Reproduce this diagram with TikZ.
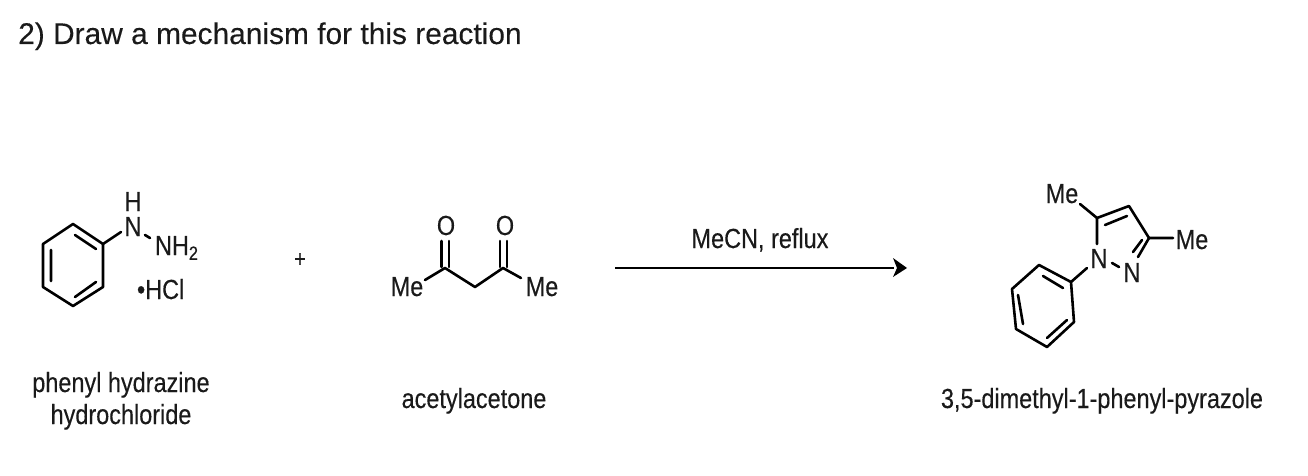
\documentclass[tikz,border=0pt]{standalone}
\usepackage{fontspec}
\setmainfont[FakeBold=0.15]{Liberation Sans}
\newfontfamily\narrowfont[FakeStretch=0.85,FakeBold=0.25]{Liberation Sans}
\definecolor{ink}{HTML}{1A1A1A}
\tikzset{
  bond/.style={draw=black,line width=2.6pt,line cap=round,line join=round},
  atom/.style={inner sep=0pt,outer sep=0pt,text=ink,font=\narrowfont\fontsize{27.6}{27.6}\selectfont,anchor=base},
  caption/.style={atom},
  title/.style={inner sep=0pt,text=ink,font=\fontsize{29.9}{29.9}\selectfont,anchor=base west},
}
\begin{document}
\begin{tikzpicture}[x=1pt,y=-1pt]
\useasboundingbox (0,0) rectangle (1308,476);
\node[title] (ttl) at (18,44) {2) Draw a mechanism for this reaction};
% phenyl hydrazine
\coordinate (a1) at (73,224); \coordinate (a2) at (103,244); \coordinate (a3) at (103,287);
\coordinate (a4) at (73,306); \coordinate (a5) at (43,287); \coordinate (a6) at (43,244);
\coordinate (a1i) at (75,235); \coordinate (a2i) at (96,249); \coordinate (a3i) at (96,282);
\coordinate (a4i) at (75,297); \coordinate (a5i) at (51,281); \coordinate (a6i) at (51,250);
\draw[bond] (a1)--(a2)--(a3)--(a4)--(a5)--(a6)--cycle;
\draw[bond] (a1i)--(a2i) (a3i)--(a4i) (a5i)--(a6i);
\node[atom] (nh) at (133,236) {N};
\node[atom] (hh) at (133,211) {H};
\node[atom,anchor=base west] (nh2) at (155,255) {NH\textsubscript{2}};
\node[atom,anchor=base west] (hcl) at (137,299) {•HCl};
\coordinate (nhw) at (121,232); \coordinate (nhe) at (145,235); \coordinate (nh2w) at (150,238);
\draw[bond] (a2)--(nhw) (nhe)--(nh2w);
% plus
\node[atom,font=\narrowfont\fontsize{24}{24}\selectfont] (plus) at (300,267) {+};
% acetylacetone
\coordinate (c1) at (445,268); \coordinate (c2) at (475,287); \coordinate (c3) at (503,268);
\coordinate (m1) at (425,280); \coordinate (m2) at (521,278);
\coordinate (c1a) at (441.7,267); \coordinate (c1b) at (449,267);
\coordinate (o1a) at (441.7,241); \coordinate (o1b) at (449,241);
\coordinate (c3a) at (500,267); \coordinate (c3b) at (507,267);
\coordinate (o3a) at (500,241); \coordinate (o3b) at (507,241);
\draw[bond] (m1)--(c1)--(c2)--(c3)--(m2);
\draw[bond] (c1a)--(o1a) (c1b)--(o1b) (c3a)--(o3a) (c3b)--(o3b);
\node[atom] (o1) at (446,235) {O};
\node[atom] (o3) at (505,235) {O};
\node[atom] (me1) at (407,296) {Me};
\node[atom] (me2) at (542,296) {Me};
% arrow
\node[atom] (cond) at (760,248) {MeCN, reflux};
\coordinate (ar1) at (615,268); \coordinate (ar2) at (894,268);
\coordinate (tip) at (907,268); \coordinate (hu) at (893,258); \coordinate (hd) at (893,277); \coordinate (hn) at (897,268);
\draw[line width=2.7pt,draw=black] (ar1)--(ar2);
\fill[black] (tip)--(hu)--(hn)--(hd)--cycle;
% pyrazole
\coordinate (p5) at (1097,218); \coordinate (p4) at (1129,206); \coordinate (p3) at (1149,238);
\coordinate (p2e) at (1138,257); \coordinate (p1n) at (1097,244);
\coordinate (n1e) at (1112,263); \coordinate (n2w) at (1119,267);
\coordinate (q1) at (1105,225); \coordinate (q2) at (1127,216);
\coordinate (q3) at (1142,240); \coordinate (q4) at (1133,252);
\coordinate (mea) at (1080,204); \coordinate (meb) at (1173,238);
\draw[bond] (p1n)--(p5)--(p4)--(p3)--(p2e);
\draw[bond] (q1)--(q2) (q3)--(q4) (n1e)--(n2w) (p5)--(mea) (p3)--(meb);
\node[atom] (n1) at (1099,268) {N};
\node[atom] (n2) at (1132,282) {N};
\node[atom] (me3) at (1062,203) {Me};
\node[atom] (me4) at (1192,249) {Me};
% phenyl
\coordinate (b1) at (1071,282); \coordinate (b2) at (1039,265); \coordinate (b3) at (1012,289);
\coordinate (b4) at (1016,329); \coordinate (b5) at (1047,347); \coordinate (b6) at (1074,322);
\coordinate (b1i) at (1063,288); \coordinate (b2i) at (1043,276); \coordinate (b3i) at (1018,295);
\coordinate (b4i) at (1023,324); \coordinate (b5i) at (1047,338); \coordinate (b6i) at (1067,320);
\coordinate (n1w) at (1087,268);
\draw[bond] (b1)--(b2)--(b3)--(b4)--(b5)--(b6)--cycle;
\draw[bond] (b1i)--(b2i) (b3i)--(b4i) (b5i)--(b6i) (n1w)--(b1);
% captions
\node[caption] (cap1) at (121,392) {phenyl hydrazine};
\node[caption] (cap2) at (121,424) {hydrochloride};
\node[caption] (cap3) at (474,408) {acetylacetone};
\node[caption] (cap4) at (1102,408) {3,5-dimethyl-1-phenyl-pyrazole};
\end{tikzpicture}
\end{document}
